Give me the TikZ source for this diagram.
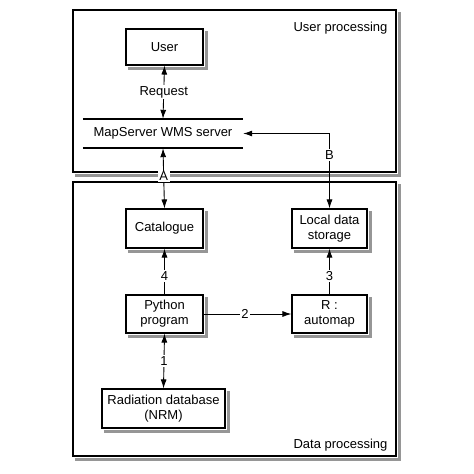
\documentclass[tikz,border=0pt]{standalone}
\usepackage{fontspec}
\setmainfont{Liberation Sans}
\usetikzlibrary{arrows.meta}
\definecolor{shadowgray}{RGB}{150,150,150}
\begin{document}
\begin{tikzpicture}[x=1pt,y=-1pt,
  font=\fontsize{13}{15}\selectfont,
  procbox/.style={draw,line width=1.1pt,fill=white,align=center,inner sep=1pt},
  region/.style={draw,line width=1.2pt,fill=white,inner sep=0pt},
  shadowline/.style={draw=shadowgray,line width=3.5pt},
  conn/.style={line width=0.9pt},
  tip/.style={-{Latex[length=9pt,width=6pt]}},
  biarrow/.style={{Latex[length=9pt,width=6pt]}-{Latex[length=9pt,width=6pt]}},
  lbl/.style={fill=white,inner sep=1.5pt}]
\useasboundingbox (0,0) rectangle (474,474);
% regions
\node[region,minimum width=323pt,minimum height=162pt] (up) at (234.5,91) {};
\node[region,minimum width=323pt,minimum height=274pt] (down) at (234.5,319) {};
\foreach \n in {up,down}
  \draw[shadowline] ([xshift=2.5pt,yshift=-2.8pt]\n.south west) -- ([xshift=2.8pt,yshift=-2.8pt]\n.south east) -- ([xshift=2.8pt,yshift=-2.5pt]\n.north east);
\node[anchor=east] (uplabel) at (391,28) {User processing};
\node[anchor=east] (downlabel) at (391,445) {Data processing};
% boxes
\node[procbox,minimum width=77pt,minimum height=36pt] (user) at (164.5,47) {User};
\node[minimum width=160pt,minimum height=29pt,inner sep=0pt] (wms) at (163,133.5) {MapServer WMS server};
\draw[line width=1.8pt] (wms.north west) -- (wms.north east);
\draw[line width=1.8pt] (wms.south west) -- (wms.south east);
\node[procbox,minimum width=77pt,minimum height=39pt] (cat) at (164.5,228.5) {Catalogue};
\node[procbox,minimum width=75pt,minimum height=39pt] (local) at (329.5,228.5) {Local data\\storage};
\node[procbox,minimum width=77pt,minimum height=38pt] (py) at (164.5,314) {Python\\program};
\node[procbox,minimum width=75pt,minimum height=38pt] (r) at (329.5,314) {R :\\automap};
\node[procbox,minimum width=123pt,minimum height=39pt] (rad) at (163.5,408.5) {Radiation database\\(NRM)};
\foreach \n in {user,cat,local,py,r,rad}
  \draw[shadowline] ([xshift=2.5pt,yshift=-2.8pt]\n.south west) -- ([xshift=2.8pt,yshift=-2.8pt]\n.south east) -- ([xshift=2.8pt,yshift=-2.5pt]\n.north east);
% connectors
\draw[conn,biarrow] (user.south) -- node[lbl] {Request} (wms.north);
\draw[conn,biarrow] (wms.south) -- node[lbl,pos=0.47] {A} (cat.north);
\draw[conn,biarrow] (wms.east) -| node[lbl,pos=0.645] {B} (local.north);
\draw[conn,tip] (py.north) -- node[lbl,pos=0.4] {4} (cat.south);
\draw[conn,tip] (r.north) -- node[lbl,pos=0.4] {3} (local.south);
\draw[conn,tip] (py.east) -- node[lbl,pos=0.47] {2} (r.west);
\draw[conn,biarrow] (py.south) -- node[lbl] {1} (rad.north);
\end{tikzpicture}
\end{document}
